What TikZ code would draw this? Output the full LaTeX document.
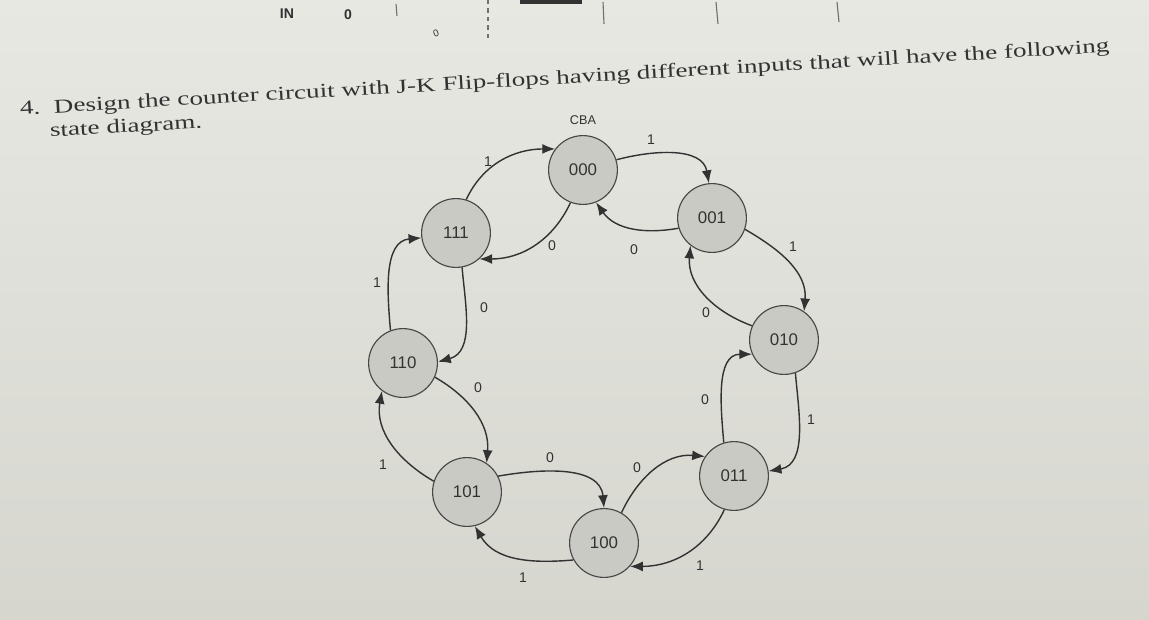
\documentclass[tikz,border=0pt]{standalone}
\usepackage{fontspec}
\setmainfont{Liberation Serif}
\setsansfont{Liberation Sans}
\usetikzlibrary{arrows.meta}
\definecolor{paperlight}{RGB}{232,232,227}
\definecolor{paper}{RGB}{214,214,207}
\definecolor{statefill}{RGB}{202,202,196}
\definecolor{ink}{RGB}{50,50,50}
\tikzset{
  state/.style={circle, draw=ink!90, line width=0.8pt, fill=statefill,
    minimum size=1.72cm, inner sep=0pt, text=ink,
    font=\sffamily\fontsize{12}{14}\selectfont},
  trans/.style={draw=ink, line width=1pt, -{Latex[length=3.2mm,width=2.5mm]}},
  lbl/.style={text=ink, inner sep=0pt, font=\sffamily\fontsize{10}{12}\selectfont},
  tick/.style={draw=ink!70, line width=0.8pt},
  question/.style={anchor=base west, rotate=3.3, inner sep=0pt, text=ink,
    font=\fontsize{14}{17}\selectfont}
}
\begin{document}
\begin{tikzpicture}[x=0.025cm, y=0.025cm]
  % paper
  \shade [top color=paperlight, bottom color=paper] (0,0) rectangle (1149,-619);
  \useasboundingbox (0,0) rectangle (1149,-619);

  % rest of the table above
  \node [lbl, font=\sffamily\bfseries\fontsize{10}{12}\selectfont] (tin) at (287,-14) {IN};
  \node [lbl, font=\sffamily\bfseries\fontsize{10}{12}\selectfont] (tzero) at (348,-15) {0};
  \node [lbl, font=\sffamily\fontsize{7}{9}\selectfont, rotate=20] (tsmall) at (436,-33) {0};
  \draw [tick] (396,-4) -- (397,-16);
  \draw [tick, dashed] (488,0) -- (488,-42);
  \fill [ink] (520,0) rectangle (582,-4);
  \draw [tick] (603,-2) -- (604,-24);
  \draw [tick] (716,-2) -- (718,-24);
  \draw [tick] (837,-2) -- (839,-22);

  % question
  \node [question] (q1) at (20,-115)
    {\scalebox{1.38}[1]{4.\ \ Design the counter circuit with J-K Flip-flops having different inputs that will have the following}};
  \node [question] (q2) at (50,-137) {\scalebox{1.38}[1]{state diagram.}};

  % states
  \node [lbl, font=\sffamily\fontsize{9}{11}\selectfont] (cba) at (583,-120) {CBA};
  \node [state] (s000) at (583,-170) {000};
  \node [state] (s001) at (712,-218) {001};
  \node [state] (s010) at (784,-340) {010};
  \node [state] (s011) at (734,-476) {011};
  \node [state] (s100) at (604,-543) {100};
  \node [state] (s101) at (467,-492) {101};
  \node [state] (s110) at (403,-363) {110};
  \node [state] (s111) at (456,-233) {111};

  % transitions
  \draw [trans] (s000.17) to[out=15, in=100] (s001.95);
  \node [lbl] (l01a) at (651,-140) {1};
  \draw [trans] (s001.197) to[out=190, in=-55] (s000.-68);
  \node [lbl] (l10a) at (634,-250) {0};

  \draw [trans] (s001.-19) to[out=-30, in=85] (s010.55);
  \node [lbl] (l12a) at (793,-247) {1};
  \draw [trans] (s010.156) to[out=160, in=-95] (s001.-128);
  \node [lbl] (l21a) at (706,-313) {0};

  \draw [trans] (s010.-71) to[out=-85, in=10] (s011.8);
  \node [lbl] (l23a) at (811,-420) {1};
  \draw [trans] (s011.107) to[out=95, in=180] (s010.204);
  \node [lbl] (l32a) at (705,-400) {0};

  \draw [trans] (s011.-106) to[out=-115, in=0] (s100.-42);
  \node [lbl] (l34a) at (700,-566) {1};
  \draw [trans] (s100.60) to[out=65, in=175] (s011.146);
  \node [lbl] (l43a) at (637,-468) {0};

  \draw [trans] (s100.209) to[out=185, in=-60] (s101.-77);
  \node [lbl] (l45a) at (523,-578) {1};
  \draw [trans] (s101.27) to[out=10, in=95] (s100.90);
  \node [lbl] (l54a) at (550,-458) {0};

  \draw [trans] (s101.162) to[out=150, in=-100] (s110.-127);
  \node [lbl] (l56a) at (383,-465) {1};
  \draw [trans] (s110.-24) to[out=-30, in=85] (s101.56);
  \node [lbl] (l65a) at (478,-388) {0};

  \draw [trans] (s110.111) to[out=95, in=185] (s111.188);
  \node [lbl] (l67a) at (377,-283) {1};
  \draw [trans] (s111.-80) to[out=-85, in=15] (s110.2);
  \node [lbl] (l76a) at (484,-308) {0};

  \draw [trans] (s111.73) to[out=65, in=180] (s000.143);
  \node [lbl] (l70a) at (488,-162) {1};
  \draw [trans] (s000.-111) to[out=-115, in=0] (s111.-48);
  \node [lbl] (l07a) at (552,-246) {0};
\end{tikzpicture}
\end{document}
